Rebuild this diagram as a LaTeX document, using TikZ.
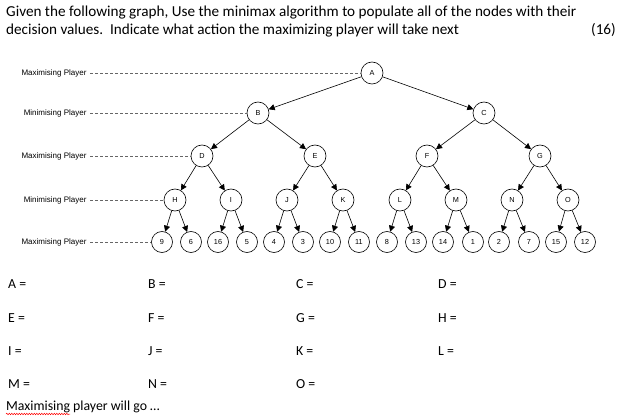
\documentclass[tikz,border=0pt]{standalone}
\usepackage{fontspec}
\setmainfont{Carlito}
\newfontfamily\arial{Liberation Sans}
\usetikzlibrary{arrows.meta,decorations.pathmorphing}
\begin{document}
\begin{tikzpicture}[x=1pt,y=-1pt,
  nd/.style={circle,draw,line width=0.6pt,minimum size=22pt,inner sep=0pt,font=\arial\fontsize{7.3}{8}\selectfont},
  lf/.style={nd,minimum size=21pt},
  ed/.style={-{Triangle[length=6pt,width=6pt]},line width=0.6pt},
  lv/.style={anchor=east,font=\arial\fontsize{8}{9}\selectfont},
  dl/.style={dashed,gray!80!black,line width=0.6pt,dash pattern=on 3pt off 2pt},
  tx/.style={anchor=base west,font=\fontsize{13.8}{18}\selectfont,inner sep=0pt},
  hd/.style={tx,font=\fontsize{15.2}{18}\selectfont}]
\useasboundingbox (0,0) rectangle (622,417);
\node[hd] (t1) at (6,17) {Given the following graph, Use the minimax algorithm to populate all of the nodes with their};
\node[hd] (t2) at (6,35) {decision values.\ \ Indicate what action the maximizing player will take next};
\node[hd,anchor=base east] (t3) at (616,35) {(16)};
% levels
\foreach \y/\n/\t in {73/l1/Maximising Player,113/l2/Minimising Player,156/l3/Maximising Player,200/l4/Minimising Player,242/l5/Maximising Player}
  \node[lv] (\n) at (90,\y) {\t};
\node[nd] (A) at (372,73) {A};
\node[nd] (B) at (258,113) {B};
\node[nd] (C) at (484,113) {C};
\foreach \n/\x in {D/202,E/315,F/427,G/540} \node[nd] (\n) at (\x,156) {\n};
\foreach \n/\x in {H/175,I/231,J/287,K/343,L/400,M/456,N/512,O/568} \node[nd] (\n) at (\x,200) {\n};
\foreach \i/\v/\x in {1/9/162,2/6/191,3/16/218,4/5/247,5/4/274,6/3/303,7/10/330,8/11/359,9/8/387,10/13/416,11/14/443,12/1/473,13/2/499,14/7/529,15/15/556,16/12/585}
  \node[lf] (v\i) at (\x,242) {\v};
\draw[dl] (l1) -- (A);
\draw[dl] (l2) -- (B);
\draw[dl] (l3) -- (D);
\draw[dl] (l4) -- (H);
\draw[dl] (l5) -- (v1);
\foreach \p/\a/\b in {A/B/C,B/D/E,C/F/G,D/H/I,E/J/K,F/L/M,G/N/O,H/v1/v2,I/v3/v4,J/v5/v6,K/v7/v8,L/v9/v10,M/v11/v12,N/v13/v14,O/v15/v16}
  {\draw[ed] (\p) -- (\a); \draw[ed] (\p) -- (\b);}
% answers
\foreach \t/\x/\y in {A/8/289,B/148/289,C/296/289,D/438/289,E/8/322,F/148/322,G/296/322,H/438/322,I/8/355,J/148/355,K/296/355,L/438/355,M/8/388,N/148/388,O/296/388}
  \node[tx] (ans\t) at (\x,\y) {\t\ =};
\node[tx] (go) at (6,410) {Maximising player will go \dots};
\draw[red,line width=0.5pt,decorate,decoration={snake,amplitude=0.7pt,segment length=2.5pt}] (6,414) -- (70,414);
\end{tikzpicture}
\end{document}
